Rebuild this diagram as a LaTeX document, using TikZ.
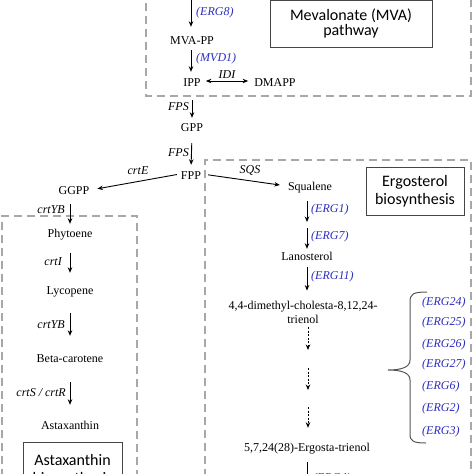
\documentclass[tikz,border=0pt]{standalone}
\usepackage{fontspec}
\setmainfont{Liberation Serif}
\newfontfamily\boxfont{Carlito}
\usetikzlibrary{arrows.meta}
\definecolor{enzblue}{RGB}{45,45,190}
\definecolor{dashgray}{RGB}{168,168,168}
\definecolor{boxgray}{RGB}{70,70,70}
\definecolor{bracegray}{RGB}{85,85,85}
\begin{document}
\begin{tikzpicture}[x=1pt,y=-1pt,
  met/.style={font=\fontsize{12}{14}\selectfont, inner sep=1pt, text height=9pt, text depth=3pt},
  dmcstyle/.style={font=\fontsize{12}{14}\selectfont, inner sep=1pt, align=center},
  enz/.style={font=\fontsize{12}{14}\selectfont\itshape, text=enzblue, inner sep=1pt, anchor=west},
  gene/.style={font=\fontsize{12}{14}\selectfont\itshape, inner sep=1pt},
  rx/.style={-{Stealth[length=5.5pt,width=4.5pt]}, line width=0.9pt},
  dx/.style={rx, dash pattern=on 2pt off 1.5pt},
  region/.style={draw=dashgray, line width=1.8pt, dash pattern=on 8pt off 5pt},
  titlebox/.style={draw=boxgray, line width=1pt, font=\boxfont\fontsize{16}{18}\selectfont, align=center, inner sep=0pt},
  bracestyle/.style={draw=bracegray, line width=1pt}]
\useasboundingbox (0,0) rectangle (474,474);
\clip (0,0) rectangle (474,474);
\fill[white] (0,0) rectangle (474,474);

% dashed regions
\draw[region] (146,-10) -- (146,96) -- (471,96) -- (471,-10);
\draw[region] (205,490) -- (205,160) -- (471,160) -- (471,490);
\draw[region] (2,490) -- (2,216) -- (137,216) -- (137,490);

% title boxes
\node[titlebox, font=\boxfont\fontsize{16}{14.5}\selectfont, minimum width=162pt, minimum height=47pt] (mvabox) at (351,23.5) {Mevalonate (MVA)\\pathway};
\node[titlebox, minimum width=98pt, minimum height=48pt] (ergbox) at (415,191) {Ergosterol\\biosynthesis};
\node[titlebox, minimum width=99pt, minimum height=56pt] (astbox) at (72.5,470) {Astaxanthin\\biosynthesis};

% metabolites
\coordinate (top) at (191,-2);
\node[met] (mvapp) at (192,41) {MVA-PP};
\node[met] (ipp) at (192,83) {IPP};
\node[met] (dmapp) at (275,83) {DMAPP};
\node[met] (gpp) at (192,128) {GPP};
\node[met] (fpp) at (191,176) {FPP};
\node[met] (ggpp) at (74,191) {GGPP};
\node[met] (phy) at (70,234) {Phytoene};
\node[met] (lyc) at (70,291) {Lycopene};
\node[met] (beta) at (70,359) {Beta-carotene};
\node[met] (asta) at (70,426) {Astaxanthin};
\node[met] (sq) at (310,187) {Squalene};
\coordinate (m17) at (307,225);
\node[met] (lano) at (307,257) {Lanosterol};
\node[dmcstyle] (dmc) at (303,312) {4,4-dimethyl-cholesta-8,12,24-\\trienol};
\coordinate (d1) at (308,359);
\coordinate (d2) at (308,398);
\node[met] (ergt) at (307,448) {5,7,24(28)-Ergosta-trienol};
\coordinate (ergend) at (307,495);

% MVA arrows
\draw[rx, shorten >=7pt] (top) -- (mvapp.north -| top);
\node[enz] (erg8) at (195,13) {(ERG8)};
\draw[rx, shorten <=2pt, shorten >=4pt] (mvapp.south -| top) -- (ipp.north -| top);
\node[enz] (mvd1) at (195,59) {(MVD1)};
\draw[{Stealth[length=5.5pt,width=4.5pt]}-{Stealth[length=5.5pt,width=4.5pt]}, line width=0.9pt, shorten <=4pt, shorten >=5pt]
  ([yshift=2pt]ipp.east) -- ([yshift=2pt]dmapp.west);
\node[gene] (idi) at (227,75) {IDI};

\draw[rx, shorten <=10pt, shorten >=3pt] (ipp.south) -- (gpp.north);
\node[gene, anchor=east] (fps1) at (190,107) {FPS};
\draw[rx, shorten <=8pt, shorten >=4pt] (gpp.south) -- (fpp.north);
\node[gene, anchor=east] (fps2) at (190,153) {FPS};

% branch arrows
\draw[rx, shorten <=3pt, shorten >=7pt] ([yshift=2pt]fpp.west) -- ([yshift=1pt]ggpp.east);
\node[gene] (crte) at (138,171) {crtE};
\draw[rx, shorten <=6pt, shorten >=7pt] ([yshift=2pt]fpp.east) -- ([yshift=1pt]sq.west);
\node[gene] (sqs) at (250,170) {SQS};

% astaxanthin branch
\draw[rx, shorten <=6pt, shorten >=3pt] (ggpp.south -| phy) -- (phy.north);
\node[gene, anchor=east] (crtyb1) at (66,210) {crtYB};
\draw[rx, shorten <=12pt, shorten >=11pt] (phy.south) -- (lyc.north);
\node[gene, anchor=east] (crti) at (63,262) {crtI};
\draw[rx, shorten <=15pt, shorten >=16pt] (lyc.south) -- (beta.north);
\node[gene, anchor=east] (crtyb2) at (66,325) {crtYB};
\draw[rx, shorten <=16pt, shorten >=14pt] (beta.south) -- (asta.north);
\node[gene, anchor=east] (crts) at (67,393) {crtS / crtR};

% ergosterol branch
\draw[rx, shorten <=7pt, shorten >=3pt] (sq.south -| lano) -- (m17);
\node[enz] (erg1) at (310,210) {(ERG1)};
\draw[rx, shorten <=3pt, shorten >=1pt] (m17) -- (lano.north);
\node[enz] (erg7) at (310,237) {(ERG7)};
\draw[rx, shorten <=3pt, shorten >=9pt] (lano.south) -- (dmc.north -| lano);
\node[enz] (erg11) at (310,277) {(ERG11)};
\draw[dx, shorten <=3pt, shorten >=9pt] (dmc.south -| d1) -- (d1);
\draw[dx, shorten <=9pt, shorten >=8pt] (d1) -- (d2);
\draw[dx, shorten <=9pt, shorten >=13pt] (d2) -- (ergt.north -| d2);
\draw[line width=0.9pt, shorten <=7pt] (ergt.south) -- (ergend);
\node[enz] (erg4) at (312,479) {(ERG4)};

% brace and enzyme list
\draw[bracestyle] (427,292) .. controls (413,292) and (410,294) .. (410,302) -- (410,360)
  .. controls (410,367) and (402,370) .. (388,370)
  .. controls (402,370) and (410,373) .. (410,380) -- (410,434)
  .. controls (410,441) and (413,443) .. (426,443);
\node[enz] (erg24) at (421,303) {(ERG24)};
\node[enz] (erg25) at (421,323) {(ERG25)};
\node[enz] (erg26) at (421,345) {(ERG26)};
\node[enz] (erg27) at (421,365) {(ERG27)};
\node[enz] (erg6) at (421,387) {(ERG6)};
\node[enz] (erg2) at (421,409) {(ERG2)};
\node[enz] (erg3) at (421,432) {(ERG3)};
\end{tikzpicture}
\end{document}
